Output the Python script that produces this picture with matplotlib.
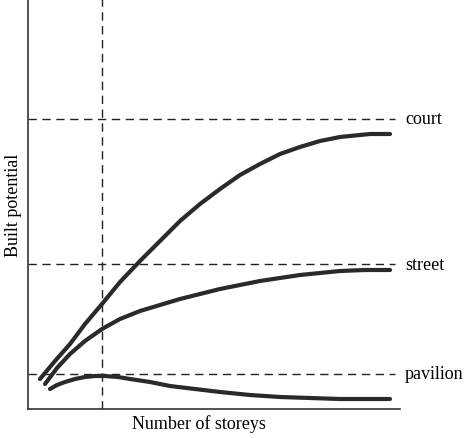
import matplotlib
matplotlib.use("Agg")
import matplotlib.pyplot as plt

plt.rcParams['font.family'] = ['Liberation Serif', 'DejaVu Serif']

court_x = [12, 27, 42, 57, 74, 92, 112, 132, 152, 172, 192, 212, 232, 252, 272, 292, 312, 342, 362]
court_y = [30, 48, 65, 85, 105, 127, 148, 168, 188, 205, 220, 234, 245, 255, 262, 268, 272, 275, 275]
street_x = [17, 29, 42, 57, 74, 92, 112, 132, 152, 172, 192, 212, 232, 252, 272, 292, 312, 337, 362]
street_y = [25, 41, 55, 68, 80, 90, 98, 104, 110, 115, 120, 124, 128, 131, 134, 136, 138, 139, 139]
pav_x = [22, 29, 37, 47, 57, 67, 77, 90, 102, 122, 142, 167, 192, 222, 252, 282, 312, 362]
pav_y = [20, 24, 27, 30, 32, 33, 33, 32, 30, 27, 23, 20, 17, 14, 12, 11, 10, 10]
levels = {"court": 290, "street": 145, "pavilion": 35}
vline_x = 74

fig = plt.figure(figsize=(4.74, 4.39), dpi=100)
ax = fig.add_axes([28/474, 29/439, 372/474, 410/439])
ax.set_xlim(0, 372)
ax.set_ylim(0, 410)
for s in ['top', 'right']:
    ax.spines[s].set_visible(False)
for s in ['left', 'bottom']:
    ax.spines[s].set_color('#333333')
    ax.spines[s].set_linewidth(1.2)
ax.set_xticks([]); ax.set_yticks([])

for name, y in levels.items():
    ax.plot([0, 367], [y, y], ls=(0, (6, 4)), color='#222222', lw=1)
    ax.text(377, y, name, va='center', ha='left', fontsize=13, clip_on=False)
ax.plot([vline_x, vline_x], [0, 410], ls=(0, (6, 4)), color='#222222', lw=1)

for xs, ys in [(court_x, court_y), (street_x, street_y), (pav_x, pav_y)]:
    ax.plot(xs, ys, color='#2a2a2a', lw=3, solid_capstyle='round', solid_joinstyle='round')

ax.set_ylabel("Built potential", fontsize=13, labelpad=4)
ax.set_xlabel("Number of storeys", fontsize=13)
ax.xaxis.set_label_coords(0.46, -0.012, transform=ax.transAxes)
fig.savefig("out.png", dpi=100)
